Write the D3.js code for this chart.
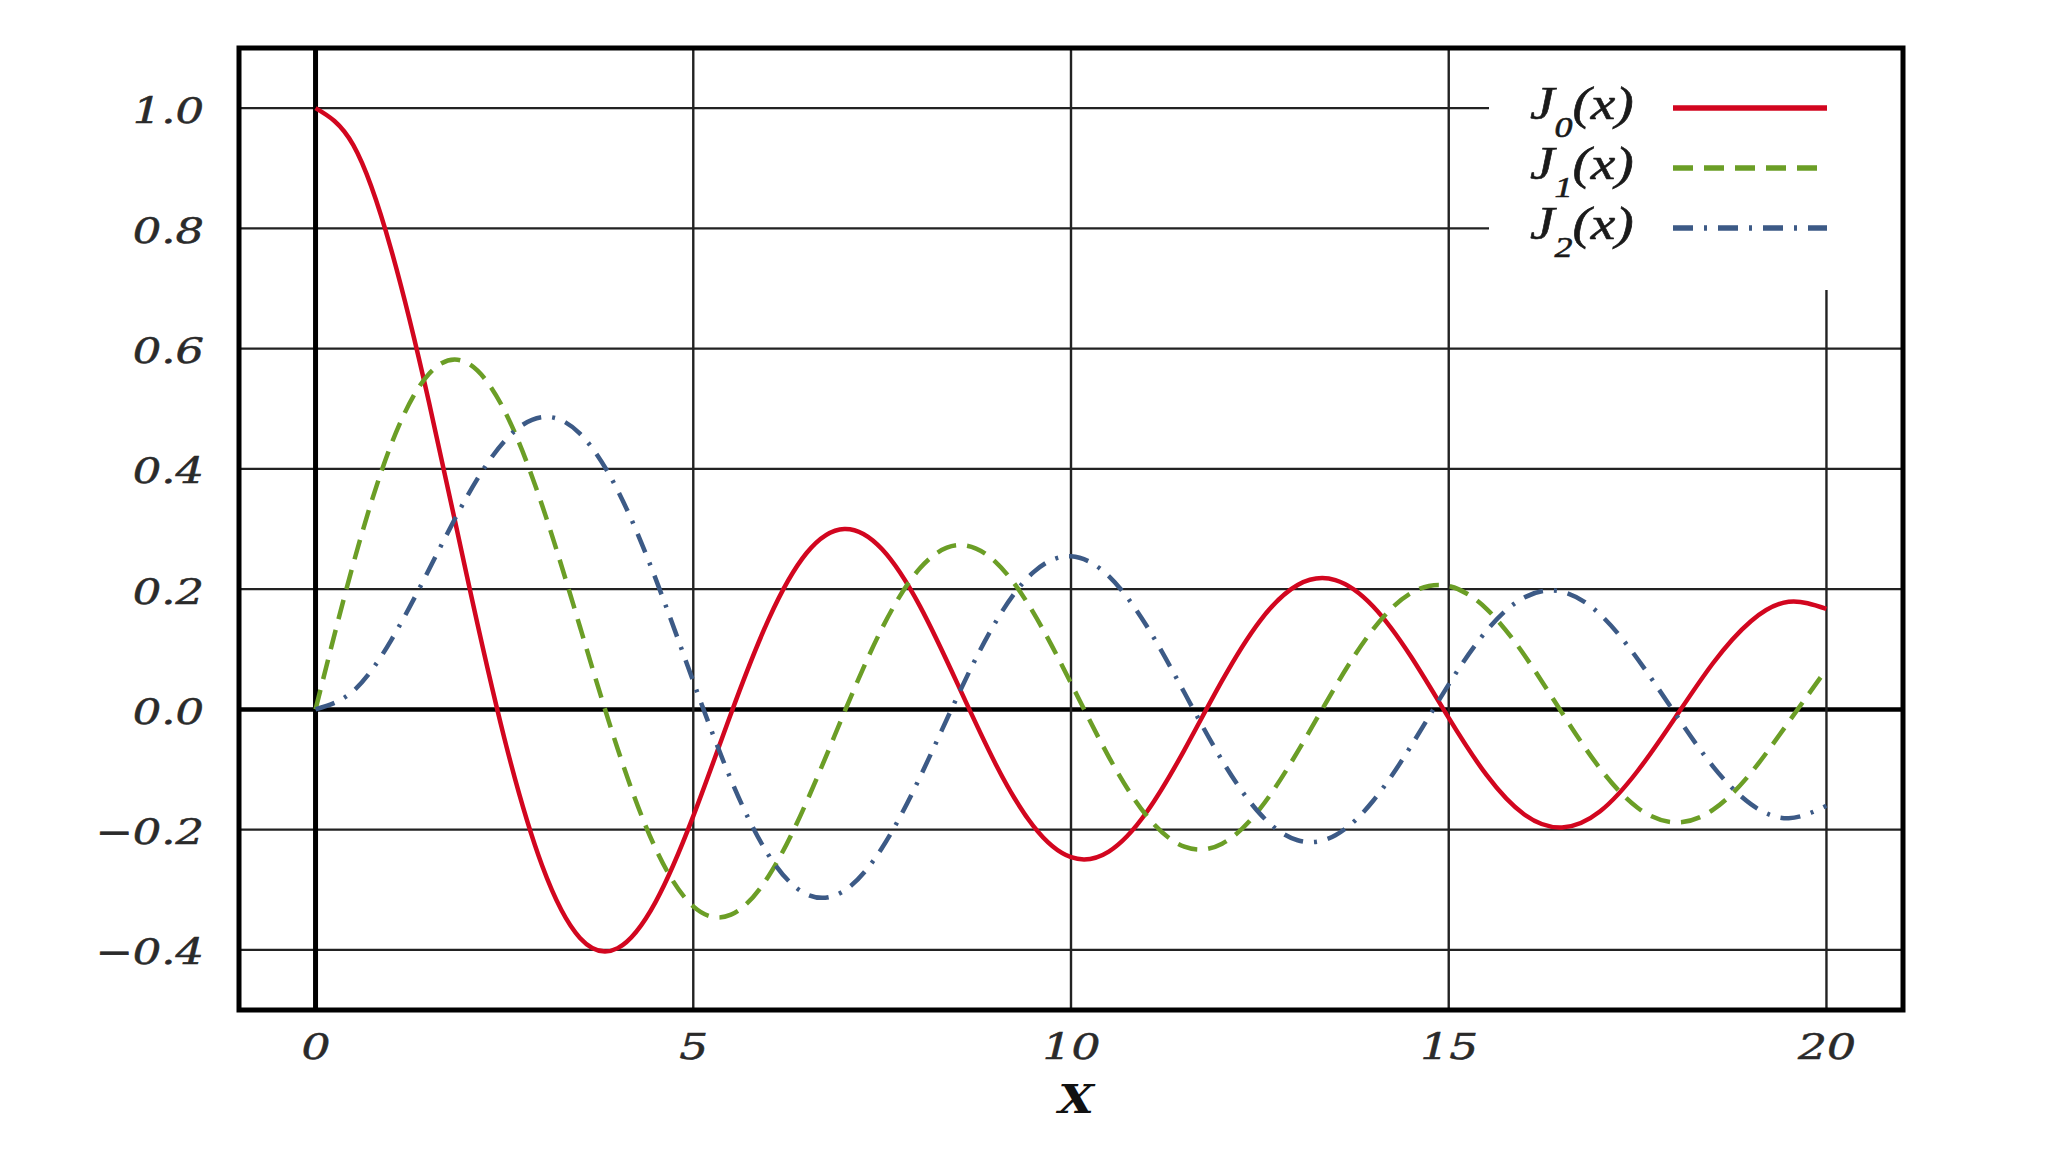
<!DOCTYPE html>
<html>
<head>
<meta charset="utf-8">
<script src="https://cdn.jsdelivr.net/npm/d3@7"></script>
<style>
  html, body { margin: 0; padding: 0; background: #fff; }
  svg { display: block; }
</style>
</head>
<body>
<svg id="chart" width="2048" height="1152"></svg>
<script>
const xValues = [0,0.5,1,1.5,2,2.5,3,3.5,4,4.5,5,5.5,6,6.5,7,7.5,8,8.5,9,9.5,10,
  10.5,11,11.5,12,12.5,13,13.5,14,14.5,15,15.5,16,16.5,17,17.5,18,18.5,19,19.5,20];
const j0Values = [1.0,0.9385,0.7652,0.5118,0.2239,-0.0484,-0.2601,-0.3801,-0.3971,-0.3205,-0.1776,
  -0.0068,0.1506,0.2601,0.3001,0.2663,0.1717,0.0419,-0.0903,-0.1939,-0.2459,
  -0.2366,-0.1712,-0.0677,0.0477,0.1469,0.2069,0.2150,0.1711,0.0878,-0.0142,
  -0.1091,-0.1749,-0.1964,-0.1699,-0.1025,-0.0134,0.0771,0.1466,0.1789,0.1670];
const j1Values = [0,0.2423,0.4401,0.5579,0.5767,0.4971,0.3391,0.1374,-0.0660,-0.2311,-0.3276,
  -0.3414,-0.2767,-0.1538,-0.0047,0.1352,0.2346,0.2731,0.2453,0.1613,0.0435,
  -0.0789,-0.1768,-0.2284,-0.2234,-0.1655,-0.0703,0.0380,0.1334,0.1933,0.2051,
  0.1672,0.0904,-0.0058,-0.0977,-0.1636,-0.1880,-0.1669,-0.1057,-0.0209,0.0668];
const j2Values = [0,0.0306,0.1149,0.2321,0.3528,0.4461,0.4861,0.4586,0.3641,0.2178,0.0466,
  -0.1173,-0.2429,-0.3074,-0.3014,-0.2302,-0.1130,0.0224,0.1448,0.2279,0.2546,
  0.2216,0.1391,0.0280,-0.0849,-0.1734,-0.2177,-0.2094,-0.1520,-0.0611,0.0416,
  0.1307,0.1862,0.1957,0.1584,0.0838,-0.0075,-0.0951,-0.1577,-0.1810,-0.1603];
const seriesNames = ["0", "1", "2"];
const xTicks = [0, 5, 10, 15, 20];
const yTicks = [-0.4, -0.2, 0.0, 0.2, 0.4, 0.6, 0.8, 1.0];
const xTitle = "X";

// ---- Styles ----
const colors = ["#d2061f", "#6b9e26", "#3c5a86"];
const dashes = [null, "20 11", "20 11 3 11"];

const svg = d3.select("#chart");
const W = 2048, H = 1152;
const plot = { left: 240, right: 1902, top: 48, bottom: 1010 };

const x = d3.scaleLinear().domain([-1, 21]).range([plot.left, plot.right]);
const y = d3.scaleLinear().domain([-0.5, 1.1]).range([plot.bottom, plot.top]);

svg.append("rect").attr("width", W).attr("height", H).attr("fill", "#fff");

svg.append("defs").append("clipPath").attr("id", "clip")
  .append("rect")
  .attr("x", plot.left).attr("y", plot.top)
  .attr("width", plot.right - plot.left).attr("height", plot.bottom - plot.top);

const grid = svg.append("g").attr("clip-path", "url(#clip)");

grid.selectAll("line.hy").data(yTicks).join("line")
  .attr("class", "hy")
  .attr("x1", plot.left).attr("x2", plot.right)
  .attr("y1", d => y(d)).attr("y2", d => y(d))
  .attr("stroke", d => d === 0 ? "#000" : "#222")
  .attr("stroke-width", d => d === 0 ? 4.5 : 2.4);

grid.selectAll("line.vx").data(xTicks).join("line")
  .attr("class", "vx")
  .attr("x1", d => x(d)).attr("x2", d => x(d))
  .attr("y1", plot.top).attr("y2", plot.bottom)
  .attr("stroke", d => d === 0 ? "#000" : "#222")
  .attr("stroke-width", d => d === 0 ? 5 : 2.4);

// curves
const rows = xValues.map((xv, i) => ({ x: xv, v: [j0Values[i], j1Values[i], j2Values[i]] }));
const curves = svg.append("g").attr("clip-path", "url(#clip)");
[0, 1, 2].forEach(k => {
  const line = d3.line()
    .x(d => x(d.x))
    .y(d => y(d.v[k]))
    .curve(d3.curveNatural);
  curves.append("path")
    .datum(rows)
    .attr("d", line)
    .attr("fill", "none")
    .attr("stroke", colors[k])
    .attr("stroke-width", 4.5)
    .attr("stroke-linecap", "butt")
    .attr("stroke-dasharray", dashes[k]);
});

// Legend box (white background covering grid)
const legend = svg.append("g");
legend.append("rect")
  .attr("x", 1489).attr("y", plot.top)
  .attr("width", plot.right - 1489).attr("height", 290 - plot.top)
  .attr("fill", "#fff");
const legendRows = [108, 168, 228];
seriesNames.forEach((n, k) => {
  const ry = legendRows[k];
  const t = legend.append("text")
    .attr("transform", `translate(1530,${ry + 11}) scale(1.2,1)`)
    .attr("font-family", "'Liberation Serif', 'Times New Roman', serif")
    .attr("font-style", "italic")
    .attr("font-size", 46)
    .attr("fill", "#1a1a1a")
    .attr("stroke", "#1a1a1a").attr("stroke-width", 0.6);
  t.append("tspan").text("J");
  t.append("tspan").attr("dy", 18).attr("font-size", 30).text(n);
  t.append("tspan").attr("dy", -18).text("(x)");
  legend.append("line")
    .attr("x1", 1673).attr("x2", 1827)
    .attr("y1", ry).attr("y2", ry)
    .attr("stroke", colors[k])
    .attr("stroke-width", 5.5)
    .attr("stroke-dasharray", dashes[k]);
});

// Frame
svg.append("rect")
  .attr("x", plot.left - 1).attr("y", plot.top)
  .attr("width", plot.right - plot.left + 2).attr("height", plot.bottom - plot.top)
  .attr("fill", "none").attr("stroke", "#000").attr("stroke-width", 5);

// Axes (labels only) via d3 axes
const fontFam = "'DejaVu Serif', serif";
const yAxis = d3.axisLeft(y).tickValues(yTicks).tickFormat(d3.format(".1f")).tickSize(0).tickPadding(0);
svg.append("g")
  .attr("transform", `translate(204,0)`)
  .call(yAxis)
  .call(g => g.select(".domain").remove())
  .call(g => g.selectAll("text")
    .attr("font-family", fontFam).attr("font-style", "italic")
    .attr("font-size", 35).attr("fill", "#2a2a2a").attr("dy", "0.40em")
    .attr("stroke", "#2a2a2a").attr("stroke-width", 0.5)
    .attr("transform", "scale(1.28,1)"));

const xAxis = d3.axisBottom(x).tickValues(xTicks).tickFormat(d3.format("d")).tickSize(0).tickPadding(0);
svg.append("g")
  .attr("transform", `translate(0,${plot.bottom + 24})`)
  .call(xAxis)
  .call(g => g.select(".domain").remove())
  .call(g => g.selectAll("text")
    .attr("font-family", fontFam).attr("font-style", "italic")
    .attr("font-size", 35).attr("fill", "#2a2a2a")
    .attr("stroke", "#2a2a2a").attr("stroke-width", 0.5)
    .attr("transform", "scale(1.3,1)"));

svg.append("text")
  .attr("transform", `translate(${(plot.left + plot.right) / 2 + 5},1113) scale(1.15,1)`)
  .attr("text-anchor", "middle")
  .attr("font-family", fontFam).attr("font-style", "italic").attr("font-weight", "bold")
  .attr("font-size", 40).attr("fill", "#111")
  .text(xTitle);
</script>
</body>
</html>
